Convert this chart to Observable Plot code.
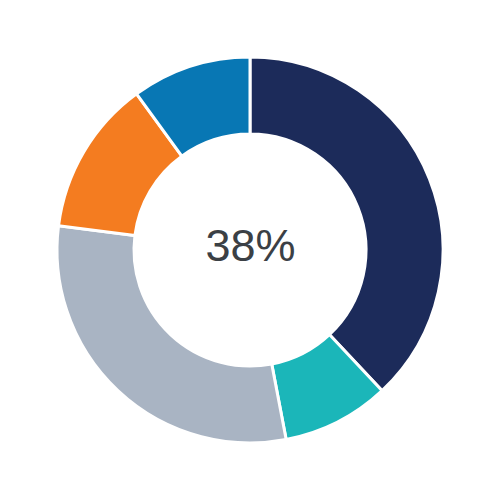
<!DOCTYPE html>
<html>
<head>
<meta charset="utf-8">
<script src="https://cdn.jsdelivr.net/npm/d3@7"></script>
<script src="https://cdn.jsdelivr.net/npm/@observablehq/plot@0.6"></script>
<style>
  html, body { margin: 0; padding: 0; background: #fff; }
</style>
</head>
<body>
<div id="chart"></div>
<script>
const categories = ["A", "B", "C", "D", "E"];
const values = [38, 9, 30, 13, 10];
const colors = ["#1c2b5a", "#1bb6b9", "#a9b4c3", "#f47c20", "#0877b4"];
const centerLabel = "38%";

const slices = categories.map((name, i) => ({name, value: values[i]}));
const color = Plot.scale({color: {type: "ordinal", domain: categories, range: colors}});

function donut(index, scales, values_, dimensions) {
  const {width, height} = dimensions;
  const cx = width / 2, cy = height / 2;
  const outer = 193, inner = 116;
  const pie = d3.pie().sort(null).value(d => d.value);
  const arc = d3.arc().innerRadius(inner).outerRadius(outer);
  const g = d3.create("svg:g").attr("transform", `translate(${cx},${cy})`);
  g.selectAll("path")
    .data(pie(slices))
    .join("path")
    .attr("d", arc)
    .attr("fill", d => color.apply(d.data.name))
    .attr("stroke", "#fff")
    .attr("stroke-width", 3)
    .attr("stroke-linejoin", "miter");
  return g.node();
}

const chart = Plot.plot({
  width: 500,
  height: 500,
  margin: 0,
  x: {domain: [-1, 1], axis: null},
  y: {domain: [-1, 1], axis: null},
  style: {background: "#fff"},
  marks: [
    donut,
    Plot.text([centerLabel], {
      frameAnchor: "middle",
      text: d => d,
      dy: -4,
      fontSize: 45,
      fill: "#3b4045",
      fontFamily: "Liberation Sans, Arial, sans-serif"
    })
  ]
});
document.getElementById("chart").appendChild(chart);
</script>
</body>
</html>
